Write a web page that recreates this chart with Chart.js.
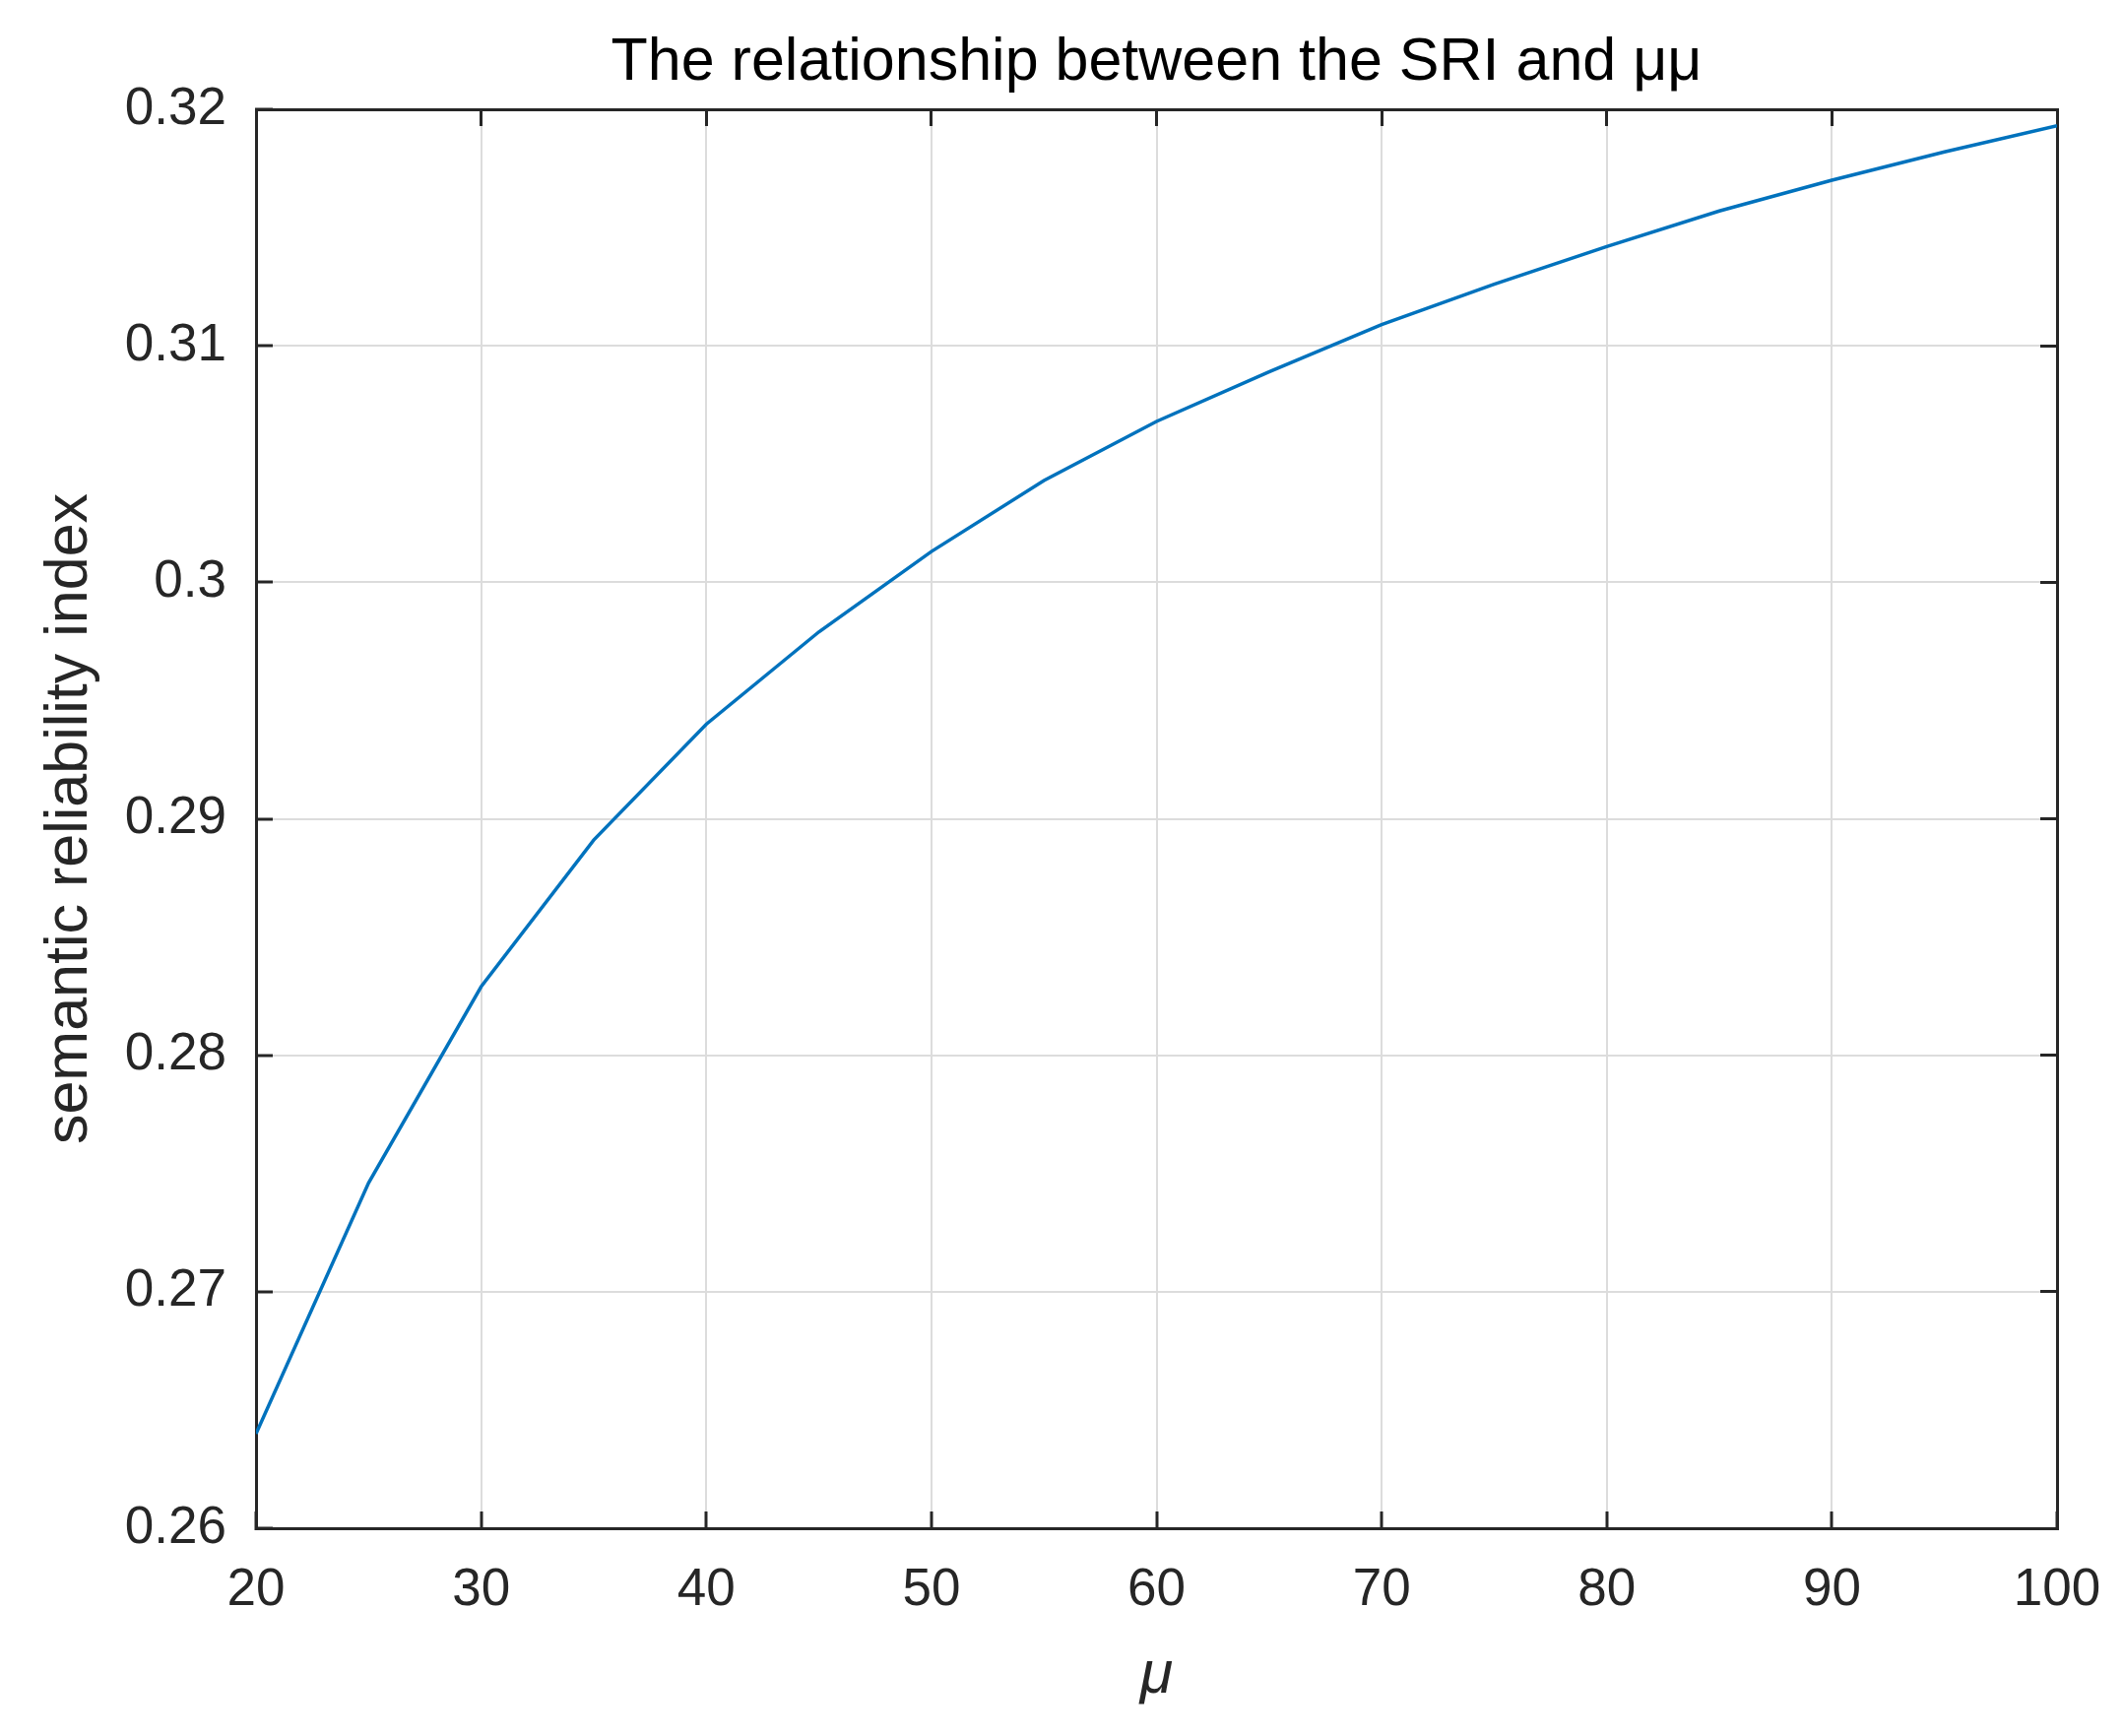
<!DOCTYPE html>
<html>
<head>
<meta charset="utf-8">
<script src="https://cdn.jsdelivr.net/npm/chart.js@4.4.1/dist/chart.umd.min.js"></script>
<style>
    html, body { margin: 0; padding: 0; background: #ffffff; }
    #wrap { width: 2156px; height: 1763px; position: relative; }
</style>
</head>
<body>
<div id="wrap"><canvas id="sriChart"></canvas></div>
<script>
// Values (one point every 5 units of mu)
const muValues = [20, 25, 30, 35, 40, 45, 50, 55, 60, 65, 70, 75, 80, 85, 90, 95, 100];
const sriValues = [0.2640, 0.2746, 0.2829, 0.2891, 0.2940, 0.2979, 0.3013, 0.3043, 0.3068,
                   0.3089, 0.3109, 0.3126, 0.3142, 0.3157, 0.3170, 0.3182, 0.3193];
const xRange = [20, 100];
const yRange = [0.26, 0.32];
const xStep = 10;
const yStep = 0.01;

const titleText = 'The relationship between the SRI and \u03bc\u03bc';
const xLabel = '\u03bc';
const yLabel = 'semantic reliability index';

document.addEventListener('DOMContentLoaded', () => {
    const axisColor = '#262626';
    const gridColor = '#dcdcdc';
    const lineColor = '#0072BD';
    const fontFamily = "'Liberation Sans', Arial, Helvetica, sans-serif";
    const tickIn = -17; // MATLAB style inward ticks

    Chart.defaults.color = axisColor;
    Chart.defaults.font.family = fontFamily;

    // fixed box sizes so the plot area sits where it does in the figure
    const fixWidth = (w) => (scale) => { scale.width = w; };
    const fixHeight = (h) => (scale) => {
        scale.height = h;
        // tick padding would otherwise push the plot in from the sides
        scale.paddingLeft = 0;
        scale.paddingRight = 0;
    };

    const titlePad = { top: 28, bottom: 0 };
    const titleSize = 61;
    const titleBox = titleSize * 1.2 + titlePad.top + titlePad.bottom;

    const points = muValues.map((mu, i) => ({ x: mu, y: sriValues[i] }));

    const border = { display: true, color: axisColor, width: 3 };

    new Chart(document.getElementById('sriChart'), {
        type: 'line',
        data: {
            datasets: [{
                label: 'SRI',
                data: points,
                borderColor: lineColor,
                backgroundColor: lineColor,
                borderWidth: 3.5,
                pointRadius: 0,
                tension: 0,
                fill: false,
            }]
        },
        options: {
            responsive: true,
            maintainAspectRatio: false,
            animation: false,
            devicePixelRatio: 1,
            layout: { padding: 0 },
            plugins: {
                legend: { display: false },
                tooltip: { enabled: false },
                title: {
                    display: true,
                    fullSize: false,
                    text: titleText,
                    color: '#000000',
                    font: { size: titleSize, weight: 'normal' },
                    padding: titlePad,
                }
            },
            scales: {
                x: {
                    type: 'linear',
                    position: 'bottom',
                    min: xRange[0],
                    max: xRange[1],
                    afterFit: fixHeight(1763 - 1552),
                    grid: { color: gridColor, lineWidth: 2, tickLength: tickIn, tickColor: axisColor, tickWidth: 3 },
                    border: border,
                    ticks: { stepSize: xStep, maxRotation: 0, autoSkip: false, padding: 49, font: { size: 53 }, color: axisColor },
                    title: {
                        display: true,
                        text: xLabel,
                        color: axisColor,
                        font: { size: 61, style: 'italic' },
                        padding: { top: 0, bottom: 24 },
                    }
                },
                x2: {
                    type: 'linear',
                    position: 'top',
                    min: xRange[0],
                    max: xRange[1],
                    afterFit: fixHeight(111 - titleBox),
                    grid: { drawOnChartArea: false, tickLength: tickIn, tickColor: axisColor, tickWidth: 3 },
                    border: border,
                    ticks: { stepSize: xStep, display: false },
                },
                y: {
                    type: 'linear',
                    position: 'left',
                    min: yRange[0],
                    max: yRange[1],
                    afterFit: fixWidth(260),
                    grid: { color: gridColor, lineWidth: 2, tickLength: tickIn, tickColor: axisColor, tickWidth: 3 },
                    border: border,
                    ticks: {
                        stepSize: yStep,
                        padding: 47,
                        font: { size: 53 },
                        color: axisColor,
                        callback: (v) => String(+v.toFixed(2)),
                    },
                    title: {
                        display: true,
                        text: yLabel,
                        color: axisColor,
                        font: { size: 61 },
                        padding: { top: 35, bottom: 0 },
                    }
                },
                y2: {
                    type: 'linear',
                    position: 'right',
                    min: yRange[0],
                    max: yRange[1],
                    afterFit: fixWidth(2156 - 2089),
                    grid: { drawOnChartArea: false, tickLength: tickIn, tickColor: axisColor, tickWidth: 3 },
                    border: border,
                    ticks: { stepSize: yStep, display: false },
                }
            }
        }
    });
});
</script>
</body>
</html>
